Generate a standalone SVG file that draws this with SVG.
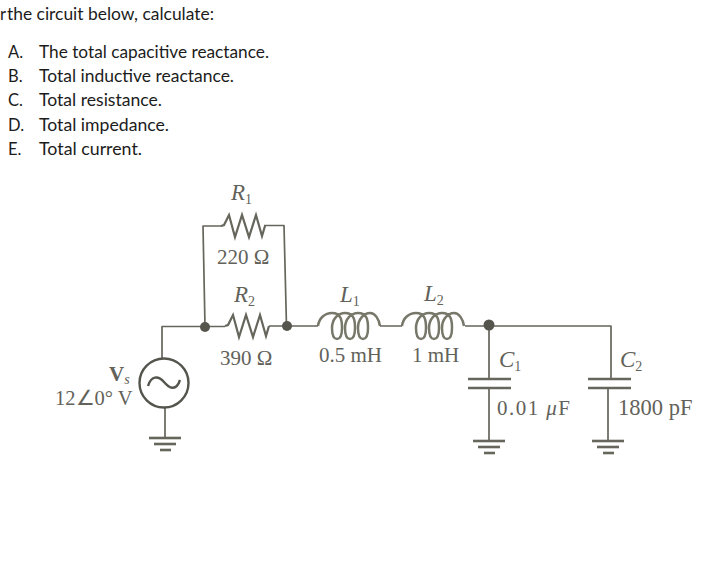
<svg xmlns="http://www.w3.org/2000/svg" width="720" height="576" viewBox="0 0 720 576">
<style>
.q{font-family:Lato,"Open Sans","Liberation Sans",sans-serif;font-size:16.5px;fill:#1c1c1c}
.v{font-family:"Liberation Serif",serif;font-size:21px;fill:#62625a}
.i{font-style:italic}
.n{font-size:23px}
.sub{font-size:14px}
.w{fill:none;stroke:#66665c;stroke-width:1.7;stroke-linejoin:round}
.z{fill:none;stroke:#66665c;stroke-width:2.2;stroke-linejoin:miter}
.t{fill:none;stroke:#77776a;stroke-width:2.5}
.p{fill:none;stroke:#66665c;stroke-width:2.6}
.s{fill:none;stroke:#55554d;stroke-width:2.4}
.d{fill:#55554d}
</style>
<defs>
<path id="zig" class="z" d="M0,0 L3,-1 L8,-11 L14,11 L21,-11 L28,11 L35,-11 L41,10 L44,0"/>
<path id="coil" class="t" d="M0,0 C1,-8 7,-13 14,-13 C23,-13 24,-6 24,2 C24,9 22,13 19,13 C15,13 14,8 14,2 C14,-7 20,-13 27,-13 C36,-13 37,-6 37,2 C37,9 35,13 32,13 C28,13 27,8 27,2 C27,-7 33,-13 40,-13 C49,-13 50,-6 50,2 C50,9 48,13 45,13 C41,13 40,8 40,2 C40,-7 46,-13 52,-13 C57,-13 61,-7 62,0"/>
<g id="gnd"><path class="p" d="M-16,0H16"/><path class="p" d="M-11,6H11"/><path class="p" d="M-5,12H6"/></g>
</defs>
<rect width="720" height="576" fill="#fff"/>
<g id="question">
<text class="q" x="0" y="20">r</text>
<text class="q" x="7" y="20" textLength="207" lengthAdjust="spacingAndGlyphs">the circuit below, calculate:</text>
<text class="q" x="8" y="58">A.</text><text class="q" x="39" y="58" textLength="230" lengthAdjust="spacingAndGlyphs">The total capacitive reactance.</text>
<text class="q" x="8" y="82">B.</text><text class="q" x="39" y="82" textLength="195" lengthAdjust="spacingAndGlyphs">Total inductive reactance.</text>
<text class="q" x="8" y="106">C.</text><text class="q" x="39" y="106" textLength="123" lengthAdjust="spacingAndGlyphs">Total resistance.</text>
<text class="q" x="8" y="131">D.</text><text class="q" x="39" y="131" textLength="130" lengthAdjust="spacingAndGlyphs">Total impedance.</text>
<text class="q" x="8" y="155">E.</text><text class="q" x="39" y="155" textLength="103" lengthAdjust="spacingAndGlyphs">Total current.</text>
</g>
<g id="connectors">
<path class="w" d="M222,226H203L205,326.500M264,225.500H284L286.500,326M162,358V326.500H225M269,326H318M380,326H402M465,326H489H611V379M489,325V379M489,388V441M608,388V441M165,408V438"/>
</g>
<g id="R1"><use href="#zig" x="221" y="226"/>
<text class="v i n" x="231" y="200">R<tspan class="sub" dy="4" font-style="normal">1</tspan></text>
<text class="v" x="217" y="264">220 Ω</text></g>
<g id="R2"><use href="#zig" x="225" y="326"/>
<text class="v i n" x="234" y="302">R<tspan class="sub" dy="4" font-style="normal">2</tspan></text>
<text class="v" x="220" y="365">390 Ω</text></g>
<g id="n1"><circle class="d" cx="205" cy="327" r="5"/></g>
<g id="n2"><circle class="d" cx="287" cy="326" r="5"/></g>
<g id="n3"><circle class="d" cx="489" cy="325" r="5.500"/></g>
<g id="L1"><use href="#coil" x="318" y="326"/>
<text class="v i n" x="340" y="302">L<tspan class="sub" dy="4" font-style="normal">1</tspan></text>
<text class="v" x="319" y="362">0.5 mH</text></g>
<g id="L2"><use href="#coil" x="402" y="326"/>
<text class="v i n" x="424" y="301">L<tspan class="sub" dy="4" font-style="normal">2</tspan></text>
<text class="v" x="412" y="362">1 mH</text></g>
<g id="C1"><path class="p" d="M468,379H511M468,388H511"/>
<text class="v i n" x="499" y="367">C<tspan class="sub" dy="4" font-style="normal">1</tspan></text>
<text class="v" x="497" y="415" textLength="73">0.01 <tspan class="i">μ</tspan>F</text>
<use href="#gnd" x="489" y="441"/></g>
<g id="C2"><path class="p" d="M588,379H631M588,388H631"/>
<text class="v i n" x="620" y="367">C<tspan class="sub" dy="4" font-style="normal">2</tspan></text>
<text class="v" x="618" y="415" style="font-size:22.500px">1800 pF</text>
<use href="#gnd" x="608" y="441"/></g>
<g id="Vs"><circle class="s" cx="164" cy="383" r="24.500"/>
<path class="s" d="M148,386 C151,376 158,375 164,382 C169,388 176,392 180,380"/>
<text class="v" x="109" y="381" font-weight="bold">V<tspan class="i sub" font-weight="normal" dy="3">s</tspan></text>
<text class="v" x="55" y="405" style="font-size:20.500px">12∠0° V</text>
<use href="#gnd" x="165" y="438"/></g>
</svg>
